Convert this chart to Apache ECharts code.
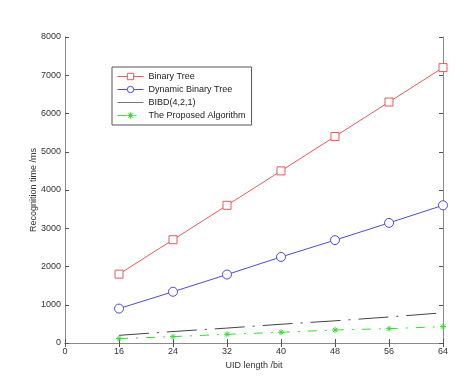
<!DOCTYPE html>
<html lang="en" style="height: 100%">
<head>
<meta charset="utf-8">
<title>Recognition time vs UID length</title>
</head>
<body style="height: 100%; margin: 0; background: #fff">
<div id="container" style="height: 100%"></div>
<script type="text/javascript" src="https://cdn.jsdelivr.net/npm/echarts/dist/echarts.min.js"></script>
<script type="text/javascript">
var dom = document.getElementById('container');
var myChart = echarts.init(dom);

// x categories (first one has no data)
var uidLengths = ['0', '16', '24', '32', '40', '48', '56', '64'];
var binaryTree = [null, 1800, 2700, 3600, 4500, 5400, 6300, 7200];
var dynamicBinaryTree = [null, 900, 1340, 1790, 2250, 2690, 3140, 3600];
var bibd = [null, 200, 300, 390, 490, 580, 680, 790];
var proposed = [null, 115, 167, 227, 280, 340, 375, 428];

var fontFamily = '"Liberation Sans", Arial, sans-serif';
var axisColor = '#8a8a8a';
var starPath = 'path://M0,-5L0,5M-5,0L5,0M-3.5,-3.5L3.5,3.5M-3.5,3.5L3.5,-3.5';

var option = {
    animation: false,
    textStyle: { fontFamily: fontFamily },
    grid: { left: 65, right: 31, top: 37, bottom: 48 },
    legend: {
        orient: 'vertical',
        left: 112,
        top: 67,
        padding: [5, 6, 5, 5],
        itemGap: 4,
        itemWidth: 26,
        itemHeight: 8,
        borderColor: '#555',
        borderWidth: 1,
        lineStyle: { width: 1 },
        itemStyle: { borderWidth: 1 },
        textStyle: { fontSize: 9, color: '#222', fontFamily: fontFamily },
        data: [
            'Binary Tree',
            'Dynamic Binary Tree',
            { name: 'BIBD(4,2,1)', icon: 'path://M0,0L26,0L26,1L0,1Z' },
            'The Proposed Algorithm'
        ]
    },
    xAxis: [{
        type: 'category',
        data: uidLengths,
        boundaryGap: false,
        name: 'UID length /bit',
        nameLocation: 'middle',
        nameGap: 17,
        nameTextStyle: { fontSize: 9, color: '#333' },
        axisLine: { lineStyle: { color: axisColor } },
        axisTick: { inside: true, length: 4, lineStyle: { color: '#555' } },
        axisLabel: { fontSize: 9, color: '#333', margin: 4 },
        splitLine: { show: false }
    }, {
        type: 'category',
        data: uidLengths,
        boundaryGap: false,
        position: 'top',
        axisLine: { lineStyle: { color: axisColor } },
        axisTick: { inside: true, length: 4, lineStyle: { color: '#555' } },
        axisLabel: { show: false },
        splitLine: { show: false }
    }],
    yAxis: [{
        type: 'value',
        min: 0,
        max: 8000,
        interval: 1000,
        name: 'Recognition time /ms',
        nameLocation: 'middle',
        nameGap: 27,
        nameMoveOverlap: false,
        nameTextStyle: { fontSize: 9, color: '#333' },
        axisLine: { show: true, lineStyle: { color: axisColor } },
        axisTick: { show: true, inside: true, length: 4, lineStyle: { color: '#555' } },
        axisLabel: {
            fontSize: 9, color: '#333', margin: 4,
            formatter: function (v) { return String(v); }
        },
        splitLine: { show: false }
    }, {
        type: 'value',
        min: 0,
        max: 8000,
        interval: 1000,
        position: 'right',
        axisLine: { show: true, lineStyle: { color: axisColor } },
        axisTick: { show: true, inside: true, length: 4, lineStyle: { color: '#555' } },
        axisLabel: { show: false },
        splitLine: { show: false }
    }],
    series: [{
        name: 'Binary Tree',
        type: 'line',
        data: binaryTree,
        symbol: 'rect',
        symbolSize: 8,
        lineStyle: { color: '#e8595a', width: 1 },
        itemStyle: { color: '#fff', borderColor: '#e8595a', borderWidth: 1 }
    }, {
        name: 'Dynamic Binary Tree',
        type: 'line',
        data: dynamicBinaryTree,
        symbol: 'circle',
        symbolSize: 9,
        lineStyle: { color: '#4a4ae0', width: 1 },
        itemStyle: { color: '#fff', borderColor: '#4a4ae0', borderWidth: 1 }
    }, {
        name: 'BIBD(4,2,1)',
        type: 'line',
        data: bibd,
        symbol: 'none',
        lineStyle: { color: '#444', width: 1, type: [30, 8, 2, 8] },
        itemStyle: { color: '#777' }
    }, {
        name: 'The Proposed Algorithm',
        type: 'line',
        data: proposed,
        symbol: starPath,
        symbolSize: 6,
        lineStyle: { color: '#33dd33', width: 1, type: [9, 8, 2, 8] },
        itemStyle: { color: '#33dd33', borderColor: '#33dd33', borderWidth: 1 }
    }]
};

myChart.setOption(option);
window.addEventListener('resize', myChart.resize);
</script>
</body>
</html>
